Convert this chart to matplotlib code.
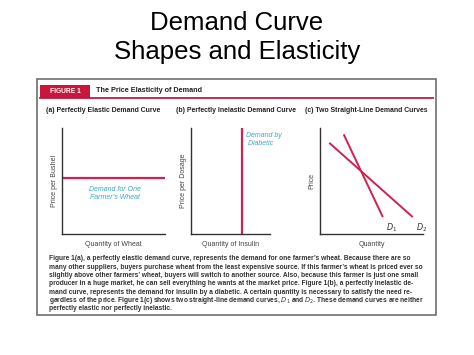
import matplotlib
matplotlib.use("Agg")
import matplotlib.pyplot as plt
from matplotlib.patches import Rectangle
from matplotlib.lines import Line2D

W, H = 474, 355
DPI = 100

# ---- data ----
title_lines = ["Demand Curve", "Shapes and Elasticity"]
figure_tag = "FIGURE 1"
figure_title = "The Price Elasticity of Demand"
panel_titles = ["(a) Perfectly Elastic Demand Curve",
                "(b) Perfectly Inelastic Demand Curve",
                "(c) Two Straight-Line Demand Curves"]
y_labels = ["Price per Bushel", "Price per Dosage", "Price"]
x_labels = ["Quantity of Wheat", "Quantity of Insulin", "Quantity"]

# panel a: horizontal demand (price level constant)
elastic_q = [0, 10]
elastic_p = [5.3, 5.3]
# panel b: vertical demand (quantity constant)
inelastic_q = [6.5, 6.5]
inelastic_p = [0, 10]
# panel c: two straight lines
d1_q = [2.3, 6.1]
d1_p = [9.4, 1.6]
d2_q = [0.9, 9.0]
d2_p = [8.6, 1.6]

caption_lines = [
    "Figure 1(a), a perfectly elastic demand curve, represents the demand for one farmer\u2019s wheat. Because there are so",
    "many other suppliers, buyers purchase wheat from the least expensive source. If this farmer\u2019s wheat is priced ever so",
    "slightly above other farmers\u2019 wheat, buyers will switch to another source. Also, because this farmer is just one small",
    "producer in a huge market, he can sell everything he wants at the market price. Figure 1(b), a perfectly inelastic de-",
    "mand curve, represents the demand for insulin by a diabetic. A certain quantity is necessary to satisfy the need re-",
    r"gardless of the price. Figure 1(c) shows two straight-line demand curves, $D_1$ and $D_2$. These demand curves are neither",
    "perfectly elastic nor perfectly inelastic.",
]

RED = "#c8163c"
LINE_RED = "#d41f4f"
TEAL = "#3aa9c4"
DARK = "#222222"
FONT = "Liberation Sans"

fig = plt.figure(figsize=(W / DPI, H / DPI), dpi=DPI)
fig.patch.set_facecolor("white")

def fx(px):
    return px / W

def fy(py):
    return 1 - py / H

# title
fig.text(fx(237), fy(23), title_lines[0], ha="center", va="center",
         fontsize=18.5, family=FONT, color="black")
fig.text(fx(237), fy(52), title_lines[1], ha="center", va="center",
         fontsize=18.5, family=FONT, color="black")

# box
fig.add_artist(Rectangle((fx(37), fy(315)), fx(436) - fx(37), fy(79) - fy(315),
                         transform=fig.transFigure, facecolor="none",
                         edgecolor="#6e6e6e", lw=1.2, zorder=-1))
# red tab
fig.add_artist(Rectangle((fx(40), fy(97.5)), fx(90) - fx(40), fy(85) - fy(97.5),
                         transform=fig.transFigure, facecolor=RED, edgecolor="none"))
fig.add_artist(Line2D([fx(40), fx(433)], [fy(98), fy(98)], transform=fig.transFigure,
                      color=RED, lw=1.3))
fig.text(fx(65), fy(91.5), figure_tag, ha="center", va="center", fontsize=4.8,
         color="white", weight="bold", family=FONT)
fig.text(fx(96), fy(91), figure_title, ha="left", va="center", fontsize=5.2,
         color=DARK, weight="bold", family=FONT)

# panel titles
title_x = [46, 176, 305]
for tx, t in zip(title_x, panel_titles):
    fig.text(fx(tx), fy(111), t, ha="left", va="center", fontsize=4.95,
             color=DARK, weight="bold", family=FONT)

# axes
axes_px = [(62, 165), (191, 270), (320, 423)]
top, bottom = 128, 234
axs = []
for (l, r) in axes_px:
    ax = fig.add_axes([fx(l), fy(bottom), fx(r) - fx(l), fy(top) - fy(bottom)])
    ax.set_xlim(0, 10)
    ax.set_ylim(0, 10)
    ax.set_xticks([])
    ax.set_yticks([])
    ax.spines["top"].set_visible(False)
    ax.spines["right"].set_visible(False)
    for s in ("left", "bottom"):
        ax.spines[s].set_color("#333333")
        ax.spines[s].set_linewidth(1.0)
    ax.patch.set_alpha(0)
    axs.append(ax)

for ax, yl, xl in zip(axs, y_labels, x_labels):
    ax.set_ylabel(yl, fontsize=5.0, color="#444444", labelpad=3, family=FONT)
    ax.set_xlabel(xl, fontsize=5.0, color="#444444", labelpad=5, family=FONT)

axs[0].plot(elastic_q, elastic_p, color=LINE_RED, lw=1.6, solid_capstyle="butt")
axs[0].text(5.1, 4.5, "Demand for One\nFarmer\u2019s Wheat", ha="center", va="top",
            fontsize=5.0, style="italic", color=TEAL, linespacing=1.1, family=FONT)

axs[1].plot(inelastic_q, inelastic_p, color=LINE_RED, lw=1.6, solid_capstyle="butt")
axs[1].text(7.0, 9.6, "Demand by\n Diabetic", ha="left", va="top",
            fontsize=5.0, style="italic", color=TEAL, linespacing=1.1, family=FONT)

axs[2].plot(d1_q, d1_p, color=LINE_RED, lw=1.4, solid_capstyle="butt")
axs[2].plot(d2_q, d2_p, color=LINE_RED, lw=1.4, solid_capstyle="butt")
axs[2].text(d1_q[1] + 0.3, d1_p[1] - 0.4, r"$D_1$", ha="left", va="top",
            fontsize=5.8, color="#333333")
axs[2].text(d2_q[1] + 0.3, d2_p[1] - 0.4, r"$D_2$", ha="left", va="top",
            fontsize=5.8, color="#333333")

# caption
for i, line in enumerate(caption_lines):
    fig.text(fx(49), fy(259 + i * 8.33), line, ha="left", va="center",
             fontsize=4.8, color="#333333", weight="bold", family=FONT)

fig.savefig("out.png", dpi=DPI, facecolor="white")
